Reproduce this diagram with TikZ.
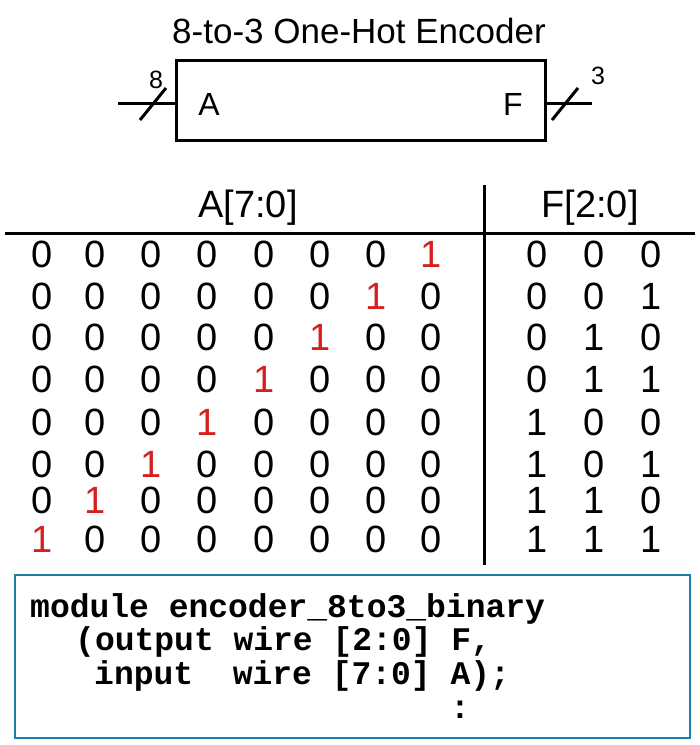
\documentclass[tikz,border=0pt]{standalone}
\usepackage{fontspec}
\setmainfont{Liberation Sans}
\setmonofont{Liberation Mono}
\begin{document}
\begin{tikzpicture}[x=1pt,y=-1pt,
  dig/.style={font=\fontsize{38}{38}\selectfont},
  hot/.style={dig,text=hotred},
  code/.style={anchor=base west,font=\fontsize{33}{33}\selectfont\ttfamily\bfseries,inner sep=0},
  ln/.style={line width=3pt}]
\definecolor{hotred}{HTML}{D42020}
\definecolor{codeblue}{HTML}{1A80A8}
\useasboundingbox (0,0) rectangle (700,745);
\node[font=\fontsize{35}{35}\selectfont] (title) at (359,31) {8-to-3 One-Hot Encoder};
\node[ln,draw,minimum width=369pt,minimum height=80pt,inner sep=0] (enc) at (360.5,100) {};
\node[font=\fontsize{32}{32}\selectfont] (pa) at (209,104) {A};
\node[font=\fontsize{32}{32}\selectfont] (pf) at (513,104) {F};
\coordinate (inw) at (118,103);
\coordinate (outw) at (592,103);
\draw[ln] (inw) -- (enc.west |- inw);
\draw[ln] (enc.east |- outw) -- (outw);
\draw[ln] (140,120) -- (166,88);
\draw[ln] (552,120) -- (578,88);
\node[font=\fontsize{25}{25}\selectfont] (n8) at (156,80) {8};
\node[font=\fontsize{25}{25}\selectfont] (n3) at (598,76) {3};
\node[dig] (ha) at (248,208) {A[7:0]};
\node[dig] (hf) at (590,208) {F[2:0]};
\coordinate (hl) at (5,233); \coordinate (hr) at (695,233);
\coordinate (vt) at (484,185); \coordinate (vb) at (484,565);
\draw[ln] (hl) -- (hr);
\draw[ln] (vt) -- (vb);
\foreach \r/\y/\f in {0/254/{0,0,0},1/296/{0,0,1},2/337/{0,1,0},3/379/{0,1,1},4/422/{1,0,0},5/464/{1,0,1},6/500/{1,1,0},7/539/{1,1,1}}{
  \foreach \x [count=\c from 0] in {431,376,320,264,207,151,95,42}{
    \ifnum\c=\r \node[hot] (a\r\c) at (\x,\y) {1};
    \else \node[dig] (a\r\c) at (\x,\y) {0}; \fi
  }
  \foreach \v [count=\k] in \f {
    \pgfmathsetmacro\fx{480+57*\k}
    \node[dig] (f\r\k) at (\fx,\y) {\v};
  }
}
\node[draw=codeblue,line width=2pt,minimum width=675pt,minimum height=163pt] (cbox) at (352.5,656.5) {};
\node[code] (l1) at (30,617) {module encoder\_8to3\_binary};
\node[code] (l2) at (75,650) {(output wire [2:0] F,};
\node[code] (l3) at (94,684) {input\ \ wire [7:0] A);};
\node[code] (l4) at (450,718) {:};
\end{tikzpicture}
\end{document}
